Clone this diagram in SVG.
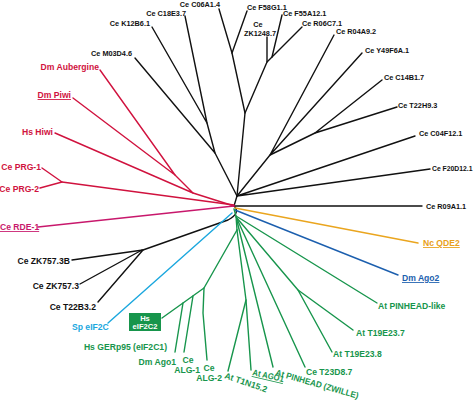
<svg xmlns="http://www.w3.org/2000/svg" width="474" height="402" viewBox="0 0 474 402">
<style>
.e{fill:none;stroke-width:1.4;stroke-linecap:round;stroke-linejoin:round}
.k{stroke:#111}.r{stroke:#d0123e}.m{stroke:#c8186c}.o{stroke:#eaa51e}.b{stroke:#1c5fae}.c{stroke:#1aa7de}.g{stroke:#17954c}
text{font-family:"Liberation Sans",Arial,sans-serif;font-weight:bold}
.s{font-size:7.3px;fill:#111}
.L{font-size:8.6px}
.tk{fill:#111}.tr{fill:#d0123e}.tm{fill:#c8186c}.to{fill:#e8a01a}.tb{fill:#1c5fae}.tc{fill:#1aa7de}.tg{fill:#17954c}
.u{text-decoration:underline}
.end{text-anchor:end}.mid{text-anchor:middle}
</style>
<rect width="474" height="402" fill="#fff"/>
<g id="connectors">
<g class="e k">
<path d="M219,9 L232,53 L247,11"/>
<path d="M232,53 L245,113"/>
<path d="M267,37 L267,62"/>
<path d="M282,15 L272,57"/>
<path d="M302,27 L267,62 L245,113 L237,196"/>
<path d="M185,16 L207,123 L152,27"/>
<path d="M207,123 L215,153 L135,58"/>
<path d="M215,153 L237,196"/>
<path d="M334,35 L270,155 L362,53"/>
<path d="M382,80 L315,133 L397,107"/>
<path d="M315,133 L270,155 L237,196"/>
<path d="M415,136 L237,196 L430,169"/>
<path d="M237,196 L234,206 L422,206"/>
<path d="M234,206 Q241,213 228,220 L143,250"/>
<path d="M72,260 L143,250 L98,302"/>
<path d="M80,284 L142,250"/>
</g>
<g class="e r">
<path d="M100,70 L175,175 L73,98"/>
<path d="M175,175 L193,193 L55,133"/>
<path d="M193,193 L234,206"/>
<path d="M42,168 L62,182 L40,188"/>
<path d="M62,182 L234,205"/>
</g>
<path class="e m" d="M38,227 L234,206"/>
<path class="e o" d="M235,208 L418,243"/>
<path class="e b" d="M235,210 L398,275"/>
<path class="e c" d="M232,213 L108,323"/>
<g class="e g">
<path d="M234,209 L236,216 L237,230"/>
<path d="M236,216 L377,303"/>
<path d="M236,217 L298,290 L353,330"/>
<path d="M298,290 L332,352"/>
<path d="M237,219 L305,367"/>
<path d="M237,221 L273,367"/>
<path d="M237,230 L246,300 L228,371"/>
<path d="M246,300 L251,370"/>
<path d="M237,230 L204,288 L162,318"/>
<path d="M204,288 L203,313 L207,360"/>
<path d="M193,296 L184,352"/>
<path d="M183,303 L175,352"/>
</g>
</g>
<g id="n-C06A1.4"><text class="s end" x="220" y="7">Ce C06A1.4</text></g>
<g id="n-C18E3.7"><text class="s end" x="186" y="16">Ce C18E3.7</text></g>
<g id="n-K12B6.1"><text class="s end" x="150" y="26">Ce K12B6.1</text></g>
<g id="n-M03D4.6"><text class="s end" x="132" y="56">Ce M03D4.6</text></g>
<g id="n-F58G1.1"><text class="s" x="247" y="10">Ce F58G1.1</text></g>
<g id="n-ZK1248.7"><text class="s mid" x="258" y="26.5">Ce</text><text class="s mid" x="260" y="35.5">ZK1248.7</text></g>
<g id="n-F55A12.1"><text class="s" x="283" y="15.5">Ce F55A12.1</text></g>
<g id="n-R06C7.1"><text class="s" x="302" y="25.5">Ce R06C7.1</text></g>
<g id="n-R04A9.2"><text class="s" x="336" y="33.5">Ce R04A9.2</text></g>
<g id="n-Y49F6A.1"><text class="s" x="365" y="52.5">Ce Y49F6A.1</text></g>
<g id="n-C14B1.7"><text class="s" x="384" y="79.5">Ce C14B1.7</text></g>
<g id="n-T22H9.3"><text class="s" x="398" y="107.5">Ce T22H9.3</text></g>
<g id="n-C04F12.1"><text class="s" x="419" y="135.5">Ce C04F12.1</text></g>
<g id="n-F20D12.1"><text class="s" x="432" y="170.5" textLength="40.5" lengthAdjust="spacingAndGlyphs">Ce F20D12.1</text></g>
<g id="n-R09A1.1"><text class="s" x="426" y="208.5">Ce R09A1.1</text></g>
<g id="n-Aubergine"><text class="L tr end" x="99" y="70">Dm Aubergine</text></g>
<g id="n-Piwi"><text class="L tr end u" x="71" y="98">Dm Piwi</text></g>
<g id="n-Hiwi"><text class="L tr end" x="53" y="135">Hs Hiwi</text></g>
<g id="n-PRG-1"><text class="L tr end" x="41" y="170">Ce PRG-1</text></g>
<g id="n-PRG-2"><text class="L tr end" x="39" y="192">Ce PRG-2</text></g>
<g id="n-RDE-1"><text class="L tm u" x="0" y="230">Ce RDE-1</text></g>
<g id="n-ZK757.3B"><text class="L tk end" x="70" y="264">Ce ZK757.3B</text></g>
<g id="n-ZK757.3"><text class="L tk end" x="79" y="289">Ce ZK757.3</text></g>
<g id="n-T22B3.2"><text class="L tk end" x="96" y="310">Ce T22B3.2</text></g>
<g id="n-SpeIF2C"><text class="L tc" x="72" y="330">Sp eIF2C</text></g>
<g id="n-QDE2"><text class="L to u" x="423" y="246">Nc QDE2</text></g>
<g id="n-Ago2"><text class="L tb u" x="402" y="281">Dm Ago2</text></g>
<g id="n-PINHEAD-like"><text class="L tg" x="378" y="309">At PINHEAD-like</text></g>
<g id="n-T19E23.7"><text class="L tg" x="356" y="336">At T19E23.7</text></g>
<g id="n-T19E23.8"><text class="L tg" x="333" y="357">At T19E23.8</text></g>
<g id="n-T23D8.7"><text class="L tg" x="306" y="375">Ce T23D8.7</text></g>
<g id="n-ZWILLE"><text class="L tg" transform="translate(275,375) rotate(16)" textLength="86" lengthAdjust="spacingAndGlyphs">At PINHEAD (ZWILLE)</text></g>
<g id="n-AGO1"><text class="L tg u" transform="translate(252,375) rotate(13)" textLength="32" lengthAdjust="spacingAndGlyphs">At AGO1</text></g>
<g id="n-T1N15.2"><text class="L tg" transform="translate(224,378) rotate(19)">At T1N15.2</text></g>
<g id="n-ALG-2"><text class="L tg mid" x="209" y="371">Ce</text><text class="L tg end" x="222" y="381">ALG-2</text></g>
<g id="n-ALG-1"><text class="L tg mid" x="188" y="363">Ce</text><text class="L tg end" x="200" y="373">ALG-1</text></g>
<g id="n-DmAgo1"><text class="L tg end" x="176" y="365">Dm Ago1</text></g>
<g id="n-GERp95"><text class="L tg end" x="167" y="350">Hs GERp95 (eIF2C1)</text></g>
<g id="n-eIF2C2"><rect x="129" y="313" width="32" height="18" fill="#17954c"/><text class="mid" x="145" y="321" font-size="7.6" fill="#fff">Hs</text><text class="mid" x="145" y="329.3" font-size="7.6" fill="#fff">eIF2C2</text></g>
</svg>
